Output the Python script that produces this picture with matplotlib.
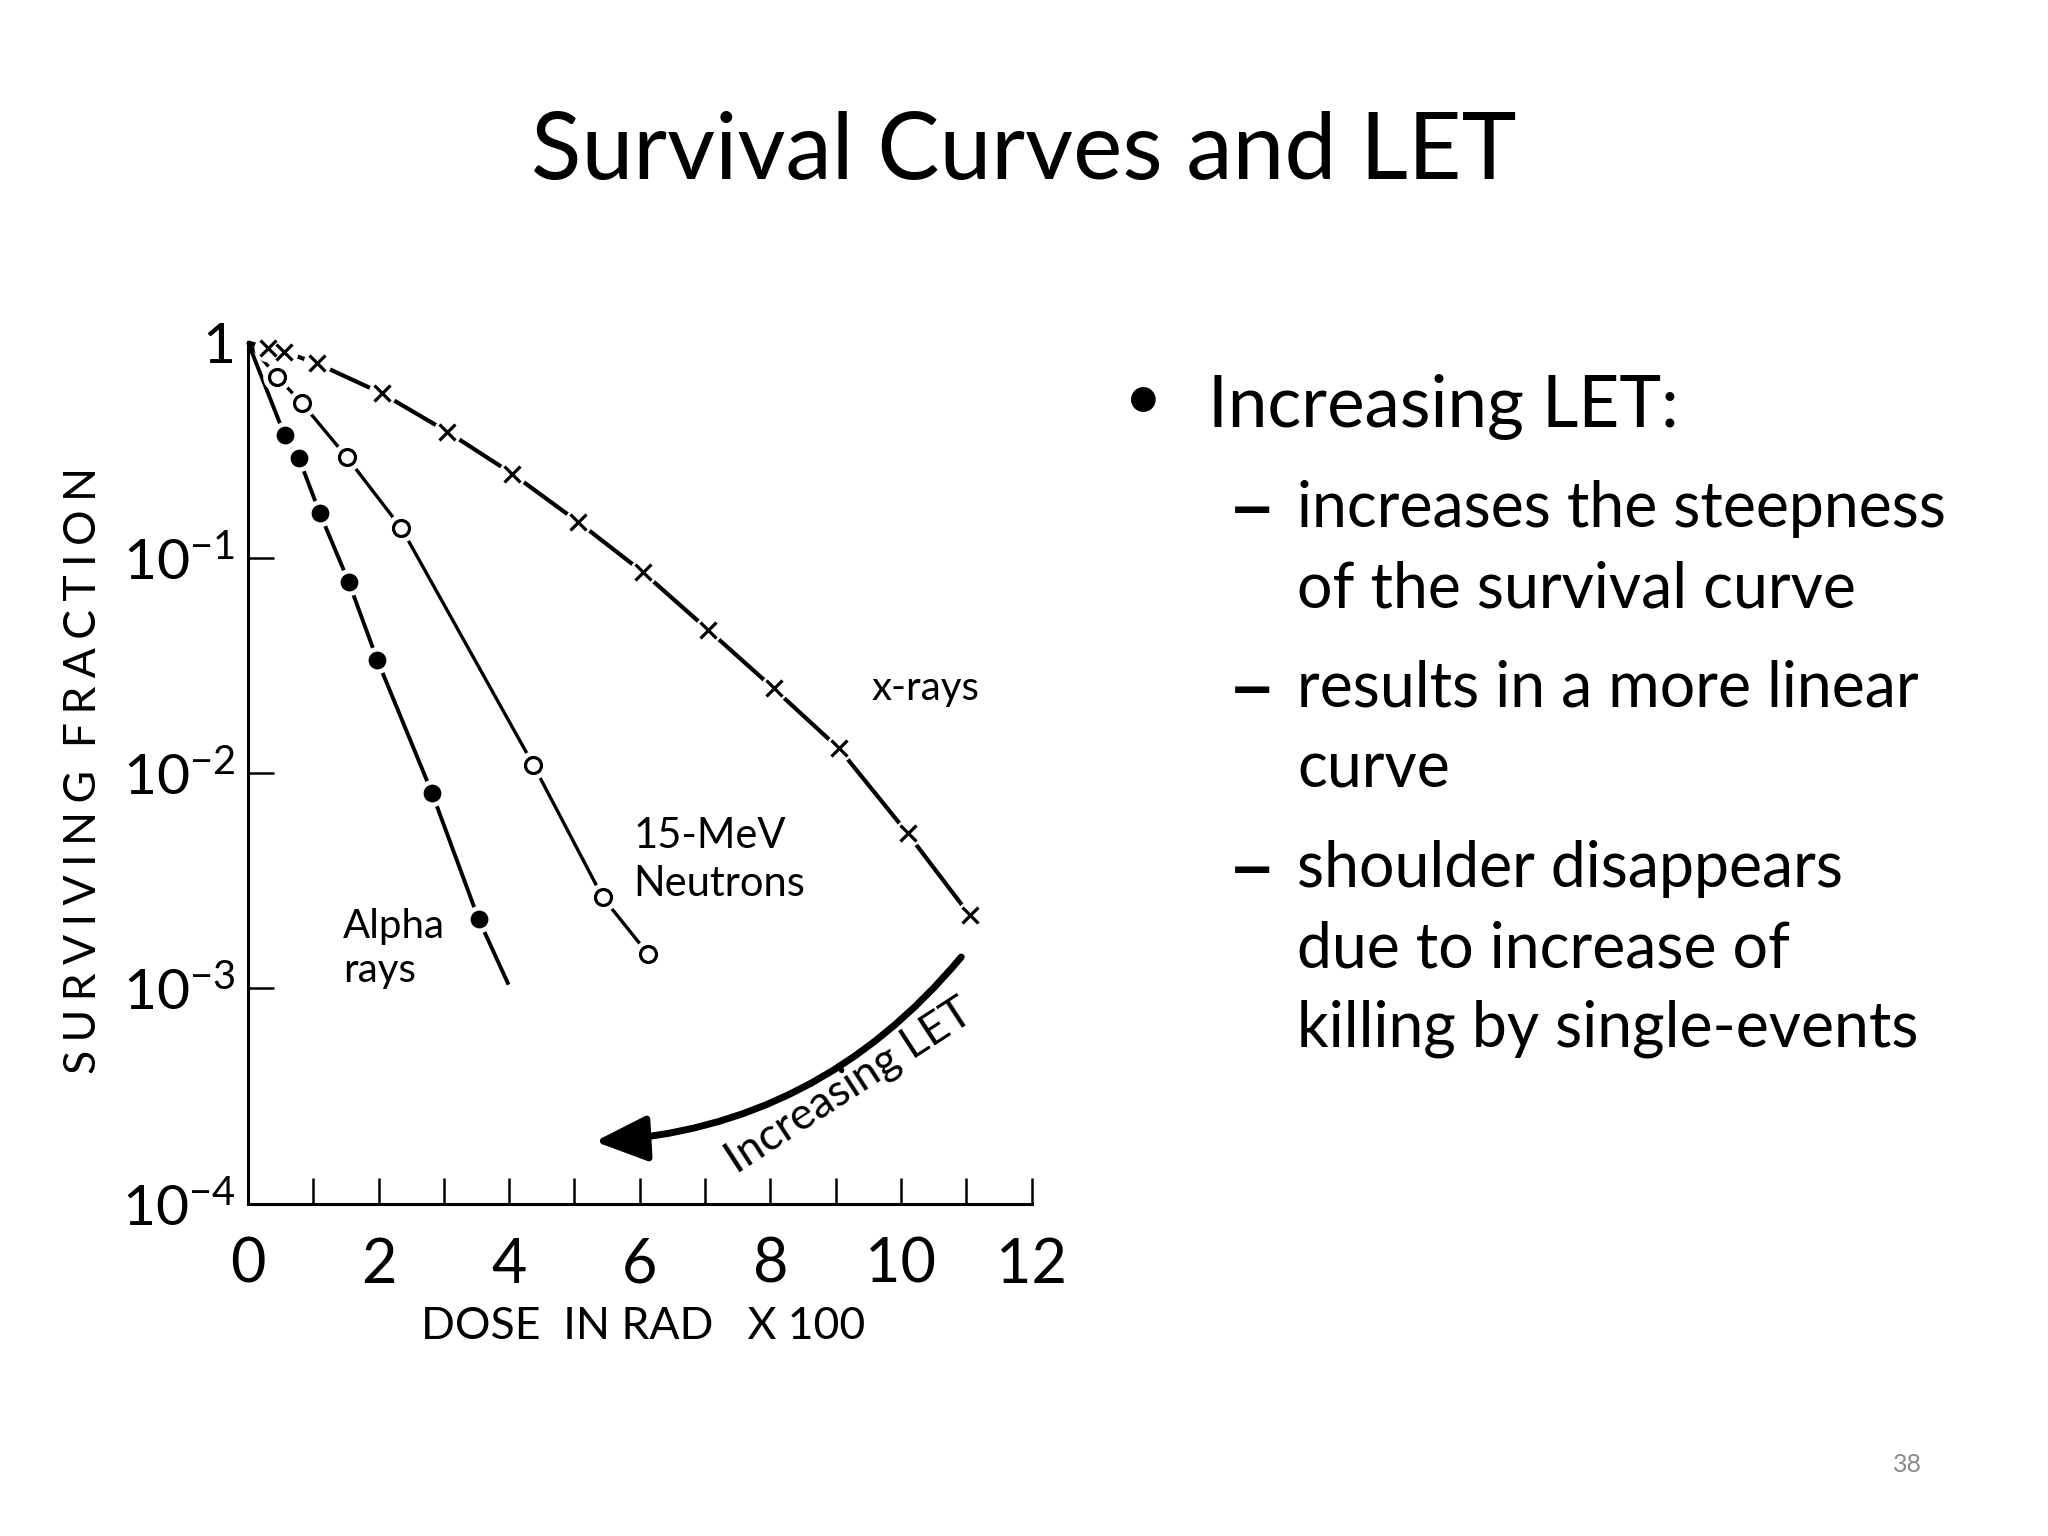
import matplotlib

matplotlib.use("Agg")
import matplotlib.pyplot as plt
from matplotlib.patches import FancyArrowPatch

plt.rcParams["font.family"] = ["Lato", "DejaVu Sans"]
plt.rcParams["mathtext.fontset"] = "custom"
plt.rcParams["mathtext.rm"] = "Lato"
plt.rcParams["mathtext.default"] = "regular"

W, H = 2048, 1536

# survival data (dose in rad x 100, surviving fraction)
xray_dose = [0.3, 0.55, 1.05, 2.05, 3.05, 4.05, 5.05, 6.05, 7.05, 8.05, 9.05, 10.1, 11.05]
xray_surv = [0.94, 0.905, 0.80, 0.58, 0.385, 0.245, 0.147, 0.0855, 0.0461, 0.0247, 0.0130, 0.00525, 0.00219]

neutron_dose = [0.45, 0.82, 1.51, 2.35, 4.37, 5.43, 6.13]
neutron_surv = [0.69, 0.525, 0.294, 0.137, 0.0109, 0.00265, 0.00144]

alpha_dose = [0.56, 0.78, 1.10, 1.54, 1.98, 2.82, 3.53]
alpha_surv = [0.371, 0.29, 0.161, 0.0774, 0.0335, 0.00805, 0.0021]
alpha_end = (3.99, 0.00104)

x_ticks = list(range(0, 13))
x_labels = ["0", "", "2", "", "4", "", "6", "", "8", "", "10", "", "12"]
y_ticks = [1e-4, 1e-3, 1e-2, 1e-1, 1]
y_labels = [r"$10^{-4}$", r"$10^{-3}$", r"$10^{-2}$", r"$10^{-1}$", "1"]

title = "Survival Curves and LET"
bullet = "Increasing LET:"
sub_bullets = [
    ["increases the steepness", "of the survival curve"],
    ["results in a more linear", "curve"],
    ["shoulder disappears", "due to increase of", "killing by single-events"],
]
page_no = "38"


def fx(px):
    return px / W


def fy(py):
    return 1 - py / H


def spaced(s, sep="\u2009\u200a"):
    return sep.join(s)


fig = plt.figure(figsize=(W / 100, H / 100), dpi=100)
fig.patch.set_facecolor("white")

# slide text
fig.text(fx(1024), fy(179), title, ha="center", va="baseline", fontsize=67)
fig.text(fx(1143), fy(401), "\u2022", ha="center", va="center", fontsize=48)
fig.text(fx(1208), fy(427), bullet, ha="left", va="baseline", fontsize=51)
base = 527
for group in sub_bullets:
    fig.text(fx(1231), fy(base + 6), "\u2013", ha="left", va="baseline",
             fontsize=61, family="DejaVu Sans")
    for line in group:
        fig.text(fx(1297), fy(base), line, ha="left", va="baseline", fontsize=45)
        base += 80
    base += 20
fig.text(fx(1907), fy(1465), page_no, ha="center", va="center",
         fontsize=18, color="#8a8a8a")

# the survival-curve figure
ax = fig.add_axes([fx(248), fy(1203.6), fx(1031.6) - fx(248), fy(342.4) - fy(1203.6)])
ax.set_yscale("log")
ax.set_xlim(0, 12)
ax.set_ylim(1e-4, 1)

for side in ("top", "right"):
    ax.spines[side].set_visible(False)
for side in ("left", "bottom"):
    ax.spines[side].set_linewidth(2.2)

ax.set_xticks(x_ticks)
ax.set_xticklabels(x_labels)
ax.set_yticks(y_ticks)
ax.set_yticklabels(y_labels)
ax.minorticks_off()
ax.tick_params(axis="x", direction="in", length=19, width=1.8, pad=24, labelsize=44)
ax.tick_params(axis="y", direction="in", length=19, width=1.8, pad=9, labelsize=41)
ax.yaxis.get_major_ticks()[-1].tick1line.set_visible(False)
ax.yaxis.get_major_ticks()[0].tick1line.set_visible(False)
ax.xaxis.get_major_ticks()[0].tick1line.set_visible(False)


def curve(dose, surv, marker, ms, lw, fill, tail=None):
    xs = [0] + list(dose)
    ys = [1] + list(surv)
    if tail is not None:
        xs.append(tail[0])
        ys.append(tail[1])
    ax.plot(xs, ys, color="black", lw=lw, solid_capstyle="butt", clip_on=False, zorder=2)
    # white halo so the line breaks around each point, as in the scan
    ax.plot(dose, surv, ls="none", marker="o", ms=ms + 9, mfc="white", mec="none",
            clip_on=False, zorder=3)
    ax.plot(dose, surv, ls="none", marker=marker, ms=ms, mfc=fill, mec="black",
            mew=2.3, color="black", clip_on=False, zorder=4)


curve(xray_dose, xray_surv, "x", 11, 3.0, "black")
curve(neutron_dose, neutron_surv, "o", 11.5, 2.4, "white")
curve(alpha_dose, alpha_surv, "o", 10.5, 2.8, "black", tail=alpha_end)

ax.text(9.55, 0.0248, "x-rays", ha="left", va="center", fontsize=29)
ax.text(5.9, 0.00395, "15-MeV\nNeutrons", ha="left", va="center", fontsize=30,
        linespacing=1.3)
ax.text(1.46, 0.00153, "Alpha\nrays", ha="left", va="center", fontsize=29,
        linespacing=1.25)
ax.text(9.2, 3.5e-4, "Increasing LET", ha="center", va="center", fontsize=32,
        rotation=33)

arrow = FancyArrowPatch((10.95, 1.43e-3), (5.27, 1.94e-4),
                        connectionstyle="arc3,rad=-0.22",
                        arrowstyle="-|>,head_length=1.6,head_width=0.7",
                        lw=5, color="black", mutation_scale=20, zorder=5)
ax.add_patch(arrow)

fig.text(fx(84), fy(770), spaced("SURVIVING") + "  " + spaced("FRACTION"),
         rotation=90, ha="center", va="center", fontsize=32)
fig.text(fx(643), fy(1339), "DOSE  IN RAD   X 100", ha="center", va="baseline",
         fontsize=32)

fig.savefig("out.png", dpi=100, facecolor="white")
